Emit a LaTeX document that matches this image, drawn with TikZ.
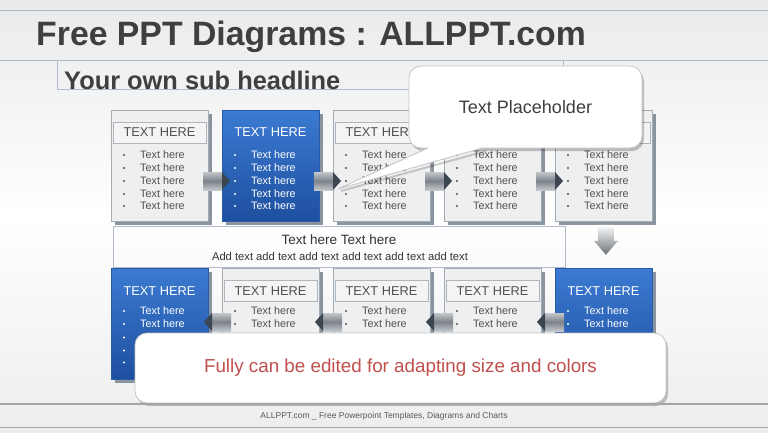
\documentclass[tikz,border=0pt]{standalone}
\usepackage{fontspec}
\setmainfont{Liberation Sans}
\usetikzlibrary{shadows,calc}
\definecolor{bgtop}{HTML}{E9EAEB}
\definecolor{bgbot}{HTML}{EDEDED}
\definecolor{boxfill}{HTML}{EEEFF1}
\definecolor{boxline}{HTML}{A3ABB4}
\definecolor{shadowgray}{HTML}{8A949E}
\definecolor{hdrfill}{HTML}{F4F4F5}
\definecolor{hdrline}{HTML}{AEB5BD}
\definecolor{txtgray}{HTML}{505050}
\definecolor{bluetop}{HTML}{3B7BD2}
\definecolor{bluebot}{HTML}{1E4F9F}
\definecolor{blueline}{HTML}{2A5AA5}
\definecolor{conngray}{HTML}{9AA2AA}
\definecolor{conndark}{HTML}{3C4650}
\definecolor{guide}{HTML}{B3BBCA}
\definecolor{titlegray}{HTML}{3F3F3F}
\definecolor{redtxt}{HTML}{C0504D}
\definecolor{calloutline}{HTML}{C4C4C4}
\definecolor{footline}{HTML}{A0A6AC}
\tikzset{
  panel/.style={draw=boxline, line width=0.8pt, minimum width=97pt, minimum height=111pt,
    inner sep=0pt, anchor=north west,
    drop shadow={shadow xshift=4pt, shadow yshift=-4pt, fill=shadowgray, opacity=1}},
  graybox/.style={panel, fill=boxfill},
  bluebox/.style={panel, draw=blueline, top color=bluetop, bottom color=bluebot},
  hdrgray/.style={draw=hdrline, fill=hdrfill, line width=0.6pt, minimum width=93pt,
    minimum height=21pt, inner sep=0pt, font=\fontsize{12.8}{14}\selectfont, text=txtgray},
  hdrblue/.style={minimum width=93pt, minimum height=21pt, inner sep=0pt,
    font=\fontsize{12.8}{14}\selectfont, text=white},
  item/.style={font=\fontsize{10.8}{12}\selectfont, anchor=west, inner sep=0pt},
  callout/.style={draw=calloutline, line width=0.8pt, fill=white, rounded corners=12pt,
    inner sep=0pt, drop shadow={shadow xshift=2pt, shadow yshift=-3pt, fill=black, opacity=0.22}},
  guideline/.style={draw=guide, line width=0.6pt},
}
\begin{document}
\begin{tikzpicture}[x=1pt,y=-1pt]
\useasboundingbox (0,0) rectangle (768,432);
\shade[top color=bgtop, bottom color=bgbot, middle color=white] (0,0) rectangle (768,432);

% guide lines of the title placeholders
\draw[guideline] (0,10) -- (768,10);
\draw[guideline] (0,60) -- (768,60);
\draw[guideline] (57,60) rectangle (563,89);
\draw[guideline] (113,226) rectangle (565,267);

% titles
\node[anchor=west, inner sep=0pt, text=titlegray, font=\fontsize{33.8}{36}\selectfont\bfseries] (title) at (36,37) {Free PPT Diagrams : ALLPPT.com};
\node[anchor=west, inner sep=0pt, text=titlegray, font=\fontsize{25.4}{27}\selectfont\bfseries] (sub) at (64,80) {Your own sub headline};

% top row
\foreach \i/\st/\hs/\tc in {1/graybox/hdrgray/txtgray, 2/bluebox/hdrblue/white, 3/graybox/hdrgray/txtgray, 4/graybox/hdrgray/txtgray, 5/graybox/hdrgray/txtgray}{
  \node[\st] (t\i) at (111*\i,110) {};
  \node[\hs] (th\i) at (111*\i+48.5,132.5) {TEXT HERE};
  \foreach \j/\yy in {1/155,2/168,3/181,4/194,5/206}{
    \fill[\tc] (111*\i+13,\yy) circle (1.1pt);
    \node[item, text=\tc] (t\i r\j) at (111*\i+29,\yy) {Text here};
  }
}
% bottom row
\foreach \i/\st/\hs/\tc in {1/bluebox/hdrblue/white, 2/graybox/hdrgray/txtgray, 3/graybox/hdrgray/txtgray, 4/graybox/hdrgray/txtgray, 5/bluebox/hdrblue/white}{
  \node[\st] (b\i) at (111*\i,268) {};
  \node[\hs] (bh\i) at (111*\i+48.5,291) {TEXT HERE};
  \foreach \j/\yy in {1/311,2/324}{
    \fill[\tc] (111*\i+13,\yy) circle (1.1pt);
    \node[item, text=\tc] (b\i r\j) at (111*\i+29,\yy) {Text here};
  }
}
% bullets of the first bottom box that stay visible beside the callout
\foreach \yy in {337,350,362}{
  \fill[white] ($(b1.west)+(13,0)$) ++(0,\yy-323.5) circle (1.1pt);
}

% connectors top row (pointing right)
\foreach \i in {1,2,3,4}{
  \shade[top color=conngray!60, bottom color=conngray!60, middle color=conngray!80!black]
    (111*\i+92,172) rectangle (111*\i+111,190);
  \fill[conndark] (111*\i+111,172) -- (111*\i+119,181) -- (111*\i+111,190) -- cycle;
}
% connectors bottom row (pointing left)
\foreach \i in {1,2,3,4}{
  \shade[top color=conngray!60, bottom color=conngray!60, middle color=conngray!80!black]
    (111*\i+101,313) rectangle (111*\i+120,331);
  \fill[conndark] (111*\i+101,313) -- (111*\i+93,322) -- (111*\i+101,331) -- cycle;
}

% down arrow from top row to bottom row
\coordinate (dtop) at ($(t5.south)+(2,3)$);
\shade[top color=white, bottom color=conngray!70!black]
  ($(dtop)+(-8,0)$) -- ($(dtop)+(8,0)$) -- ($(dtop)+(8,16)$) -- ($(dtop)+(12,16)$)
  -- ($(dtop)+(0,30)$) -- ($(dtop)+(-12,16)$) -- ($(dtop)+(-8,16)$) -- cycle;

% middle text
\node[inner sep=0pt, text=black!80, font=\fontsize{13.5}{15}\selectfont] (mid1) at (339,240) {Text here Text here};
\node[inner sep=0pt, text=black!80, font=\fontsize{11.2}{13}\selectfont] (mid2) at (340,256) {Add text add text add text add text add text add text};

% callout "Text Placeholder"
\node[callout, minimum width=233pt, minimum height=82pt, text=titlegray,
      font=\fontsize{18}{20}\selectfont] (ph) at (525.5,107) {Text Placeholder};
\draw[black, opacity=0.18, line width=2pt] (341,191) -- (486,151);
\fill[white] (338,189) -- (428,148) -- (428,143) -- (482,143) -- (482,148) -- cycle;
\draw[calloutline, line width=0.8pt] (428,148) -- (338,189) -- (482,148);

% bottom callout
\node[callout, minimum width=531pt, minimum height=70pt, text=redtxt,
      font=\fontsize{18.8}{21}\selectfont] (fc) at (400.5,368) {Fully can be edited for adapting size and colors};

% footer
\draw[footline, line width=1.6pt] (0,404) -- (768,404);
\draw[footline, line width=0.9pt] (0,427) -- (768,427);
\node[inner sep=0pt, text=black!65, font=\fontsize{8.5}{10}\selectfont] (foot) at (384,416) {ALLPPT.com \_ Free Powerpoint Templates, Diagrams and Charts};
\end{tikzpicture}
\end{document}
